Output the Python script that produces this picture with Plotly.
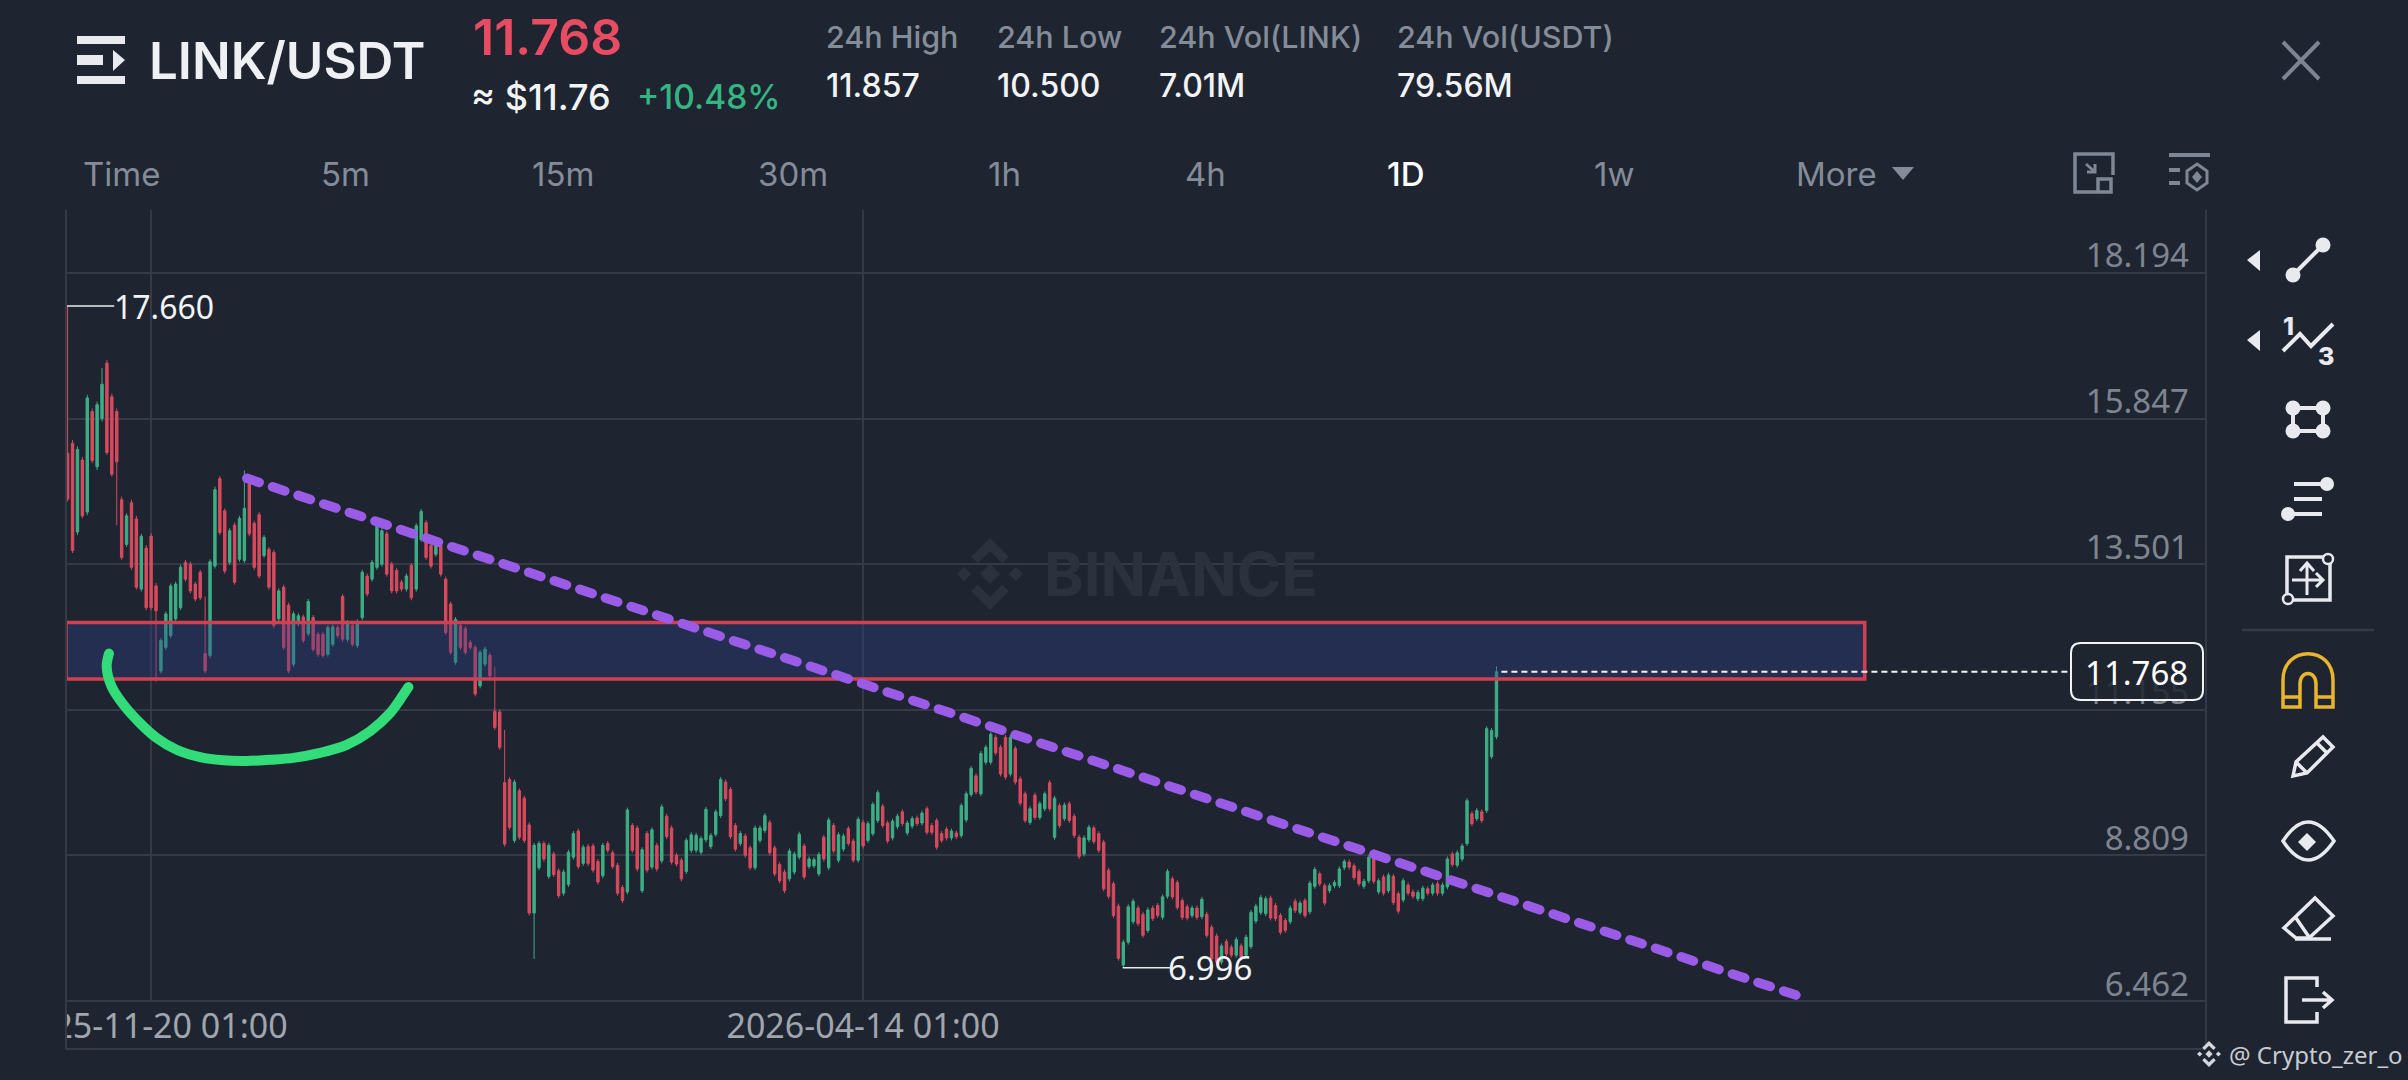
"""LINK/USDT 1D chart screen, dark trading app layout."""

import pandas as pd
import plotly.graph_objects as go

W, H = 2408, 1080
BG = "#1e2530"
GRID = "#343a46"
ICON = "#e8eaef"
MUTED = "#858c99"
GREEN = "#3dae85"
RED = "#d84a5e"
PURPLE = "#9a5ce6"

START_DATE = "2025-11-03 01:00"
VIEW_RANGE = ["2025-11-02 17:00", "2027-01-12 13:00"]

opens = [
    15.29, 15.45, 14.02, 15.18, 14.34, 15.96, 15.07, 15.85, 16.74, 16.20,
    15.96, 14.54, 13.82, 14.49, 14.23, 13.10, 13.76, 13.95, 13.15, 11.78,
    12.16, 12.35, 12.62, 12.80, 13.53, 13.50, 13.18, 13.37, 12.06, 12.03,
    13.47, 14.88, 14.36, 13.53, 14.13, 13.58, 13.56, 14.82, 14.16, 14.30,
    13.64, 13.74, 13.69, 12.62, 13.13, 12.84, 11.89, 12.54, 12.65, 12.38,
    12.64, 12.37, 12.37, 12.05, 12.21, 12.48, 12.98, 12.29, 12.51, 12.19,
    12.64, 13.31, 13.26, 13.45, 13.50, 13.99, 13.50, 13.40, 13.21, 13.10,
    13.48, 13.10, 13.90, 14.17, 13.80, 13.66, 13.80, 13.26, 12.86, 11.92,
    12.51, 12.46, 12.24, 12.16, 11.54, 11.89, 12.03, 11.13, 11.12, 9.98,
    10.03, 9.05, 9.85, 9.73, 9.30, 7.88, 8.61, 9.00, 8.47, 8.83,
    8.56, 8.20, 8.34, 8.78, 9.20, 8.68, 8.95, 8.96, 8.71, 8.48,
    9.00, 8.85, 8.65, 8.29, 8.22, 9.29, 9.25, 8.24, 9.16, 8.62,
    8.97, 8.72, 9.44, 9.25, 8.81, 8.73, 8.55, 8.89, 8.89, 8.86,
    9.06, 8.95, 9.15, 9.45, 9.99, 9.87, 9.29, 9.00, 9.12, 8.93,
    8.61, 9.05, 9.21, 9.34, 8.93, 8.66, 8.54, 8.43, 8.54, 8.78,
    8.96, 8.63, 8.64, 8.51, 9.10, 8.61, 9.29, 8.73, 8.91, 9.24,
    9.04, 8.73, 9.34, 9.05, 9.16, 9.37, 9.60, 9.33, 9.09, 9.27,
    9.51, 9.17, 9.28, 9.41, 9.33, 9.56, 9.29, 9.37, 9.16, 9.23,
    9.09, 9.17, 9.13, 9.38, 9.79, 10.09, 9.80, 10.31, 10.31, 10.71,
    10.55, 10.71, 10.12, 10.53, 10.04, 9.80, 9.34, 9.78, 9.42, 9.56,
    9.98, 9.10, 9.61, 9.40, 9.64, 9.44, 9.10, 8.83, 9.06, 9.25,
    9.16, 9.02, 8.57, 8.35, 7.99, 7.04, 7.41, 7.74, 7.96, 7.86,
    7.60, 7.96, 8.00, 7.81, 8.15, 8.43, 8.37, 8.08, 7.98, 7.84,
    7.96, 7.82, 7.86, 7.65, 7.51, 7.09, 7.42, 7.33, 7.20, 7.35,
    7.20, 7.34, 7.75, 7.89, 7.87, 8.12, 8.00, 7.84, 7.76, 7.74,
    8.07, 7.89, 8.08, 7.90, 8.31, 8.51, 8.32, 8.24, 8.32, 8.32,
    8.61, 8.70, 8.64, 8.55, 8.31, 8.40, 8.87, 8.22, 8.46, 8.24,
    8.47, 8.19, 8.09, 8.33, 8.22, 8.11, 8.11, 8.27, 8.20, 8.35,
    8.20, 8.30, 8.83, 8.65, 8.75, 9.00, 9.48, 9.40, 9.51, 9.53,
    10.40, 10.72,
]
highs = [
    17.66, 15.50, 15.40, 15.23, 16.23, 16.01, 16.12, 16.66, 16.79, 16.25,
    16.01, 14.59, 14.32, 14.54, 14.28, 13.99, 13.81, 14.00, 13.20, 12.31,
    12.74, 13.19, 13.22, 13.49, 13.57, 13.54, 13.22, 13.41, 12.98, 13.58,
    14.75, 14.92, 14.40, 14.08, 14.17, 14.28, 15.01, 14.86, 14.20, 14.34,
    13.97, 13.78, 13.73, 13.11, 13.17, 12.88, 12.74, 12.71, 12.69, 12.94,
    12.68, 12.41, 12.41, 12.52, 12.53, 12.52, 13.02, 12.60, 12.55, 12.61,
    13.41, 13.35, 13.57, 14.19, 14.08, 14.03, 13.54, 13.44, 13.25, 13.35,
    13.52, 14.16, 14.39, 14.21, 13.84, 13.84, 13.84, 13.30, 12.90, 12.65,
    12.55, 12.50, 12.28, 12.20, 12.12, 12.17, 12.07, 11.85, 11.16, 10.83,
    10.07, 10.03, 9.89, 9.77, 9.34, 9.01, 9.04, 9.04, 9.01, 8.87,
    8.60, 8.58, 8.90, 9.20, 9.24, 8.98, 8.99, 9.00, 8.75, 9.01,
    9.04, 8.89, 8.69, 8.33, 9.58, 9.33, 9.29, 8.94, 9.20, 9.26,
    9.01, 9.63, 9.48, 9.29, 8.85, 8.77, 9.09, 9.18, 9.17, 9.12,
    9.59, 9.17, 9.55, 10.07, 10.03, 9.91, 9.33, 9.20, 9.16, 8.97,
    9.29, 9.29, 9.49, 9.38, 8.97, 8.70, 8.58, 8.92, 8.87, 9.19,
    9.00, 8.79, 8.78, 8.86, 9.14, 9.42, 9.33, 9.18, 9.16, 9.28,
    9.08, 9.43, 9.38, 9.36, 9.67, 9.86, 9.64, 9.37, 9.40, 9.48,
    9.55, 9.37, 9.44, 9.45, 9.53, 9.60, 9.33, 9.41, 9.20, 9.27,
    9.24, 9.21, 9.65, 9.84, 10.25, 10.13, 10.49, 10.59, 10.80, 10.75,
    10.59, 10.75, 10.75, 10.57, 10.08, 9.84, 9.60, 9.82, 9.68, 9.84,
    10.02, 9.77, 9.65, 9.66, 9.68, 9.48, 9.14, 9.13, 9.30, 9.29,
    9.20, 9.06, 8.61, 8.39, 8.03, 7.45, 8.02, 8.11, 8.00, 7.90,
    7.97, 8.00, 8.04, 8.18, 8.59, 8.47, 8.41, 8.12, 8.02, 8.00,
    8.00, 8.14, 7.90, 7.69, 7.55, 7.39, 7.46, 7.37, 7.49, 7.39,
    7.53, 7.93, 8.03, 8.17, 8.15, 8.16, 8.04, 7.88, 7.80, 8.00,
    8.11, 8.08, 8.12, 8.40, 8.62, 8.55, 8.36, 8.36, 8.41, 8.63,
    8.75, 8.74, 8.68, 8.59, 8.43, 8.82, 8.91, 8.44, 8.50, 8.53,
    8.51, 8.23, 8.44, 8.37, 8.26, 8.25, 8.32, 8.31, 8.37, 8.39,
    8.37, 8.79, 8.87, 8.89, 9.00, 9.73, 9.52, 9.57, 9.55, 10.89,
    10.86, 11.857,
]
lows = [
    14.51, 13.68, 13.97, 14.24, 14.29, 15.13, 15.02, 15.80, 15.26, 14.91,
    14.13, 13.57, 13.78, 13.41, 13.09, 13.06, 12.76, 12.76, 11.61, 11.74,
    12.12, 12.31, 12.58, 12.76, 13.22, 13.03, 12.90, 12.92, 11.74, 11.99,
    13.43, 13.97, 13.35, 13.49, 13.17, 13.54, 13.52, 13.95, 13.41, 13.27,
    13.60, 13.09, 12.47, 12.58, 12.12, 11.74, 11.85, 12.50, 12.23, 12.34,
    12.09, 12.01, 11.99, 12.01, 12.17, 12.31, 12.25, 12.25, 12.17, 12.15,
    12.60, 12.98, 13.22, 13.41, 13.46, 13.30, 13.03, 13.03, 13.06, 13.06,
    12.92, 13.06, 13.86, 13.57, 13.43, 13.62, 13.30, 12.36, 12.04, 11.88,
    12.12, 12.04, 12.12, 11.37, 11.50, 11.85, 11.66, 10.83, 10.51, 8.95,
    9.22, 9.01, 9.06, 9.01, 7.84, 7.14, 8.57, 8.71, 8.43, 8.46,
    8.12, 8.16, 8.30, 8.74, 8.59, 8.64, 8.64, 8.53, 8.34, 8.44,
    8.85, 8.59, 8.16, 8.04, 8.18, 8.85, 8.55, 8.20, 8.53, 8.58,
    8.55, 8.68, 9.07, 8.66, 8.63, 8.39, 8.51, 8.85, 8.85, 8.82,
    9.02, 8.91, 9.11, 9.41, 9.68, 9.07, 8.87, 8.96, 8.77, 8.57,
    8.57, 9.01, 9.17, 8.81, 8.47, 8.36, 8.20, 8.39, 8.50, 8.74,
    8.42, 8.59, 8.60, 8.47, 8.71, 8.57, 8.84, 8.69, 8.87, 8.96,
    8.69, 8.69, 8.92, 9.01, 9.12, 9.33, 9.25, 9.00, 9.05, 9.23,
    9.28, 9.13, 9.24, 9.28, 9.29, 9.14, 9.14, 8.90, 9.01, 9.05,
    9.05, 9.07, 9.09, 9.34, 9.75, 9.79, 9.76, 10.27, 10.27, 10.42,
    10.08, 10.03, 10.08, 9.95, 9.61, 9.33, 9.30, 9.38, 9.38, 9.52,
    9.52, 9.06, 9.25, 9.36, 9.33, 9.09, 8.75, 8.79, 9.02, 8.99,
    8.85, 8.23, 8.11, 7.80, 7.11, 6.996, 7.37, 7.70, 7.67, 7.48,
    7.56, 7.75, 7.80, 7.77, 8.11, 8.10, 7.93, 7.77, 7.76, 7.80,
    7.77, 7.78, 7.48, 7.10, 7.05, 7.05, 7.18, 7.16, 7.16, 7.13,
    7.16, 7.30, 7.71, 7.85, 7.83, 7.76, 7.75, 7.53, 7.56, 7.70,
    7.88, 7.85, 7.80, 7.86, 8.27, 8.31, 8.00, 8.20, 8.28, 8.28,
    8.57, 8.58, 8.41, 8.31, 8.27, 8.36, 8.35, 8.18, 8.16, 8.20,
    8.01, 7.87, 8.05, 8.16, 8.11, 8.07, 8.07, 8.16, 8.16, 8.16,
    8.16, 8.26, 8.62, 8.61, 8.71, 8.96, 9.28, 9.36, 9.33, 9.49,
    10.36, 10.68,
]
closes = [
    14.55, 13.72, 15.35, 14.28, 16.18, 15.17, 16.07, 16.40, 15.30, 14.95,
    15.15, 13.61, 14.28, 13.45, 13.13, 13.95, 12.80, 12.80, 12.75, 12.27,
    12.70, 13.15, 13.18, 13.45, 13.26, 13.07, 12.94, 12.96, 11.78, 13.54,
    14.70, 14.01, 13.39, 14.04, 13.21, 14.24, 14.40, 13.99, 13.45, 13.31,
    13.93, 13.13, 12.51, 13.07, 12.16, 11.78, 12.70, 12.67, 12.27, 12.90,
    12.13, 12.05, 12.03, 12.48, 12.49, 12.35, 12.29, 12.56, 12.21, 12.57,
    13.37, 13.02, 13.53, 14.15, 14.04, 13.34, 13.07, 13.07, 13.10, 13.31,
    12.96, 14.12, 14.35, 13.61, 13.47, 13.80, 13.34, 12.40, 12.08, 12.61,
    12.16, 12.08, 12.16, 11.41, 12.08, 12.13, 11.70, 10.87, 10.55, 8.99,
    9.26, 9.99, 9.10, 9.05, 7.88, 8.97, 9.00, 8.75, 8.97, 8.50,
    8.16, 8.54, 8.86, 9.16, 8.63, 8.94, 8.68, 8.57, 8.38, 8.97,
    8.89, 8.63, 8.20, 8.08, 9.54, 8.89, 8.59, 8.90, 8.57, 9.22,
    8.59, 9.59, 9.11, 8.70, 8.67, 8.43, 9.05, 9.14, 9.13, 9.08,
    9.55, 9.13, 9.51, 10.03, 9.72, 9.11, 8.91, 9.16, 8.81, 8.61,
    9.25, 9.25, 9.45, 8.85, 8.51, 8.40, 8.24, 8.88, 8.83, 9.15,
    8.46, 8.75, 8.74, 8.82, 8.75, 9.38, 8.88, 9.14, 9.12, 9.00,
    8.73, 9.39, 8.96, 9.32, 9.63, 9.82, 9.29, 9.04, 9.36, 9.44,
    9.32, 9.33, 9.40, 9.32, 9.49, 9.18, 9.18, 8.94, 9.05, 9.09,
    9.20, 9.11, 9.61, 9.80, 10.21, 9.83, 10.45, 10.55, 10.76, 10.46,
    10.12, 10.07, 10.71, 9.99, 9.65, 9.37, 9.56, 9.42, 9.64, 9.80,
    9.56, 9.73, 9.29, 9.62, 9.37, 9.13, 8.79, 9.09, 9.26, 9.03,
    8.89, 8.27, 8.15, 7.84, 7.15, 7.41, 7.98, 8.07, 7.71, 7.52,
    7.93, 7.79, 7.84, 8.14, 8.55, 8.14, 7.97, 7.81, 7.80, 7.96,
    7.81, 8.10, 7.52, 7.14, 7.09, 7.35, 7.22, 7.20, 7.45, 7.17,
    7.49, 7.89, 7.99, 8.13, 8.11, 7.80, 7.79, 7.57, 7.60, 7.96,
    7.92, 8.04, 7.84, 8.36, 8.58, 8.35, 8.04, 8.32, 8.37, 8.59,
    8.71, 8.62, 8.45, 8.35, 8.39, 8.78, 8.39, 8.40, 8.20, 8.49,
    8.05, 7.91, 8.40, 8.20, 8.15, 8.21, 8.28, 8.20, 8.33, 8.20,
    8.33, 8.75, 8.66, 8.85, 8.96, 9.69, 9.32, 9.53, 9.37, 10.85,
    10.82, 11.768,
]

y_ticks = [18.194, 15.847, 13.501, 11.155, 8.809, 6.462]
y_range = [6.462, 19.208]
x_ticks = ["2025-11-20 01:00", "2026-04-14 01:00"]

# zone, trend line and hand drawn curve
zone_x = ["2025-11-02 17:00", "2026-11-04 01:00", "2026-11-04 01:00", "2025-11-02 17:00", "2025-11-02 17:00"]
zone_y = [12.563, 12.563, 11.65, 11.65, 12.563]
trend_x = ["2025-12-09 13:00", "2026-10-22 10:00"]
trend_y = [14.885, 6.52]
curve_days = [8.42, 7.95, 8.96, 11.34, 14.74, 18.13, 22.2, 26.96, 31.71, 36.46,
              41.2, 45.97, 51.4, 56.83, 61.6, 65.66, 67.7, 69.4]
curve_y = [12.06, 11.85, 11.53, 11.24, 10.94, 10.70, 10.51, 10.39, 10.34, 10.33,
           10.35, 10.38, 10.46, 10.59, 10.81, 11.10, 11.32, 11.52]

high_label_x = ["2025-11-03 01:00", "2025-11-12 10:00"]
low_label_x = ["2026-06-06 01:00", "2026-06-15 10:00"]
last_price = 11.768
last_line_x = ["2026-08-22 01:00", "2026-12-16 01:00"]

stat_names = ["24h High", "24h Low", "24h Vol(LINK)", "24h Vol(USDT)"]
stat_values = ["11.857", "10.500", "7.01M", "79.56M"]
stat_lefts = [824, 995, 1157, 1395]
tabs = ["Time", "5m", "15m", "30m", "1h", "4h", "1D", "1w", "More"]
tab_lefts = [81, 319, 530, 756, 986, 1183, 1385, 1592, 1794]

dates = pd.date_range(START_DATE, periods=len(highs), freq="D")
curve_x = [dates[0] + pd.Timedelta(days=d) for d in curve_days]


def px_x(v):
    return v / W


def px_y(v):
    return 1 - v / H


def px_path(d):
    out, is_x = [], True
    for tok in d.split():
        if tok.isalpha():
            out.append(tok)
        else:
            out.append(f"{px_x(float(tok)) if is_x else px_y(float(tok)):.5f}")
            is_x = not is_x
    return " ".join(out)


shapes = []
notes = []


def stroke(d, color=ICON, width=3.5, fill=None):
    shapes.append(dict(type="path", path=px_path(d), xref="paper", yref="paper", layer="above",
                       line=dict(color=color, width=width), fillcolor=fill or "rgba(0,0,0,0)"))


def solid(d, color=ICON):
    shapes.append(dict(type="path", path=px_path(d), xref="paper", yref="paper", layer="above",
                       line=dict(width=0), fillcolor=color))


def dot(cx, cy, r, color=ICON, fill=None, width=0):
    shapes.append(dict(type="circle", xref="paper", yref="paper", layer="above",
                       x0=px_x(cx - r), x1=px_x(cx + r), y0=px_y(cy + r), y1=px_y(cy - r),
                       line=dict(color=color, width=width), fillcolor=fill or color))


def label(text, x, y, size, color="#ffffff", family="Inter", weight=400, anchor="left"):
    notes.append(dict(text=text, x=px_x(x), y=px_y(y), xref="paper", yref="paper", showarrow=False,
                      xanchor=anchor, yanchor="middle",
                      font=dict(family=family, size=size, color=color, weight=weight)))


def binance_mark(cx, cy, r, color):
    def diamond(x, y, s):
        solid(f"M {x} {y - s} L {x + s} {y} L {x} {y + s} L {x - s} {y} Z", color)
    diamond(cx, cy, r * 0.28)
    diamond(cx - r * 0.72, cy, r * 0.2)
    diamond(cx + r * 0.72, cy, r * 0.2)
    for sign in (-1, 1):
        solid(f"M {cx} {cy + sign * r} L {cx + r * 0.52} {cy + sign * r * 0.48} "
              f"L {cx + r * 0.34} {cy + sign * r * 0.3} L {cx} {cy + sign * r * 0.64} "
              f"L {cx - r * 0.34} {cy + sign * r * 0.3} L {cx - r * 0.52} {cy + sign * r * 0.48} Z", color)


# ---------------------------------------------------------------------------
# Frame
# ---------------------------------------------------------------------------
solid("M 0 1003 L 66 1003 L 66 1075 L 0 1075 Z", BG)
stroke("M 66 210 L 66 1049", GRID, 2)
stroke("M 2206 210 L 2206 1049", GRID, 2)
stroke("M 66 1001 L 2206 1001", GRID, 2)
stroke("M 66 1049 L 2206 1049", GRID, 2)

# ---------------------------------------------------------------------------
# Header
# ---------------------------------------------------------------------------
solid("M 77 36 L 125 36 L 125 44 L 77 44 Z")
solid("M 77 76 L 125 76 L 125 84 L 77 84 Z")
solid("M 77 55 L 103 55 L 103 65 L 77 65 Z")
solid("M 113 50 L 125 60 L 113 71 Z")
label("LINK/USDT", 147, 61, 51, "#eef0f4", weight=600)
label("11.768", 471, 37, 50, "#e84c63", weight=600)
label("≈ $11.76", 469, 97, 36, "#f2f3f5", weight=500)
label("+10.48%", 635, 97, 33.5, "#35b582", weight=500)
for name, value, left in zip(stat_names, stat_values, stat_lefts):
    label(name, left, 37, 30.5, "#858c99", weight=500)
    label(value, left, 85, 32, "#f2f3f5", weight=500)
for tab, left in zip(tabs, tab_lefts):
    label(tab, left, 174, 33, "#ffffff" if tab == "1D" else MUTED, weight=500 if tab == "1D" else 400)
solid("M 1892 167 L 1914 167 L 1903 180 Z", MUTED)
stroke("M 2283 42 L 2319 79", "#7d8593", 4)
stroke("M 2319 42 L 2283 79", "#7d8593", 4)

# expand and settings icons
stroke("M 2113 175 L 2113 154 L 2075 154 L 2075 192 L 2097 192", "#7f8694", 3.5)
stroke("M 2098 179 L 2111 179 L 2111 192 L 2098 192 Z", "#7f8694", 3.5)
stroke("M 2086 164 L 2095 172 M 2095 164 L 2095 172 L 2087 172", "#7f8694", 3)
stroke("M 2169 155 L 2210 155", "#7f8694", 4)
stroke("M 2169 170 L 2180 170 M 2169 183 L 2180 183", "#7f8694", 4)
stroke("M 2197 164 L 2207 171 L 2207 183 L 2197 190 L 2187 183 L 2187 171 Z", "#7f8694", 3)
solid("M 2197 171 L 2202 177 L 2197 183 L 2192 177 Z", "#7f8694")

# ---------------------------------------------------------------------------
# Right toolbar
# ---------------------------------------------------------------------------
solid("M 2260 250 L 2247 260 L 2260 271 Z")
stroke("M 2293 275 L 2323 245", width=4)
dot(2293, 275, 7.5)
dot(2323, 245, 7.5)

solid("M 2260 330 L 2247 340 L 2260 351 Z")
stroke("M 2283 351 L 2300 334 L 2311 346 L 2333 324", width=4)
label("1", 2288, 326, 25, ICON, weight=800, anchor="center")
label("3", 2326, 356, 25, ICON, weight=800, anchor="center")

stroke("M 2293 408 L 2323 408 L 2323 431 L 2293 431 Z", width=4)
for cx, cy in [(2293, 408), (2323, 408), (2293, 431), (2323, 431)]:
    dot(cx, cy, 7.5)

stroke("M 2294 484 L 2327 484 M 2294 499 L 2322 499 M 2288 514 L 2322 514", width=4)
dot(2327, 484, 7)
dot(2288, 514, 7)

stroke("M 2287 557 L 2330 557 L 2330 600 L 2287 600 Z", width=3.5)
dot(2328, 559, 5, ICON, BG, 2.5)
dot(2288, 599, 5, ICON, BG, 2.5)
stroke("M 2307 595 L 2307 563 M 2300 571 L 2307 563 L 2314 571", width=3)
stroke("M 2292 580 L 2323 580 M 2316 573 L 2323 580 L 2316 587", width=3)

stroke("M 2242 630 L 2374 630", GRID, 2.5)

GOLD = "#e9b52e"
stroke("M 2283 707 L 2283 680 C 2283 645 2333 645 2333 680 L 2333 707 L 2316 707 L 2316 684 "
       "C 2316 670 2300 670 2300 684 L 2300 707 Z", GOLD, 3.5)
stroke("M 2283 697 L 2300 697 M 2316 697 L 2333 697", GOLD, 3.5)

stroke("M 2293 776 L 2296 762 L 2323 737 L 2333 747 L 2307 773 Z")
stroke("M 2297 763 L 2306 772 M 2316 742 L 2327 753")

stroke("M 2283 841 Q 2308 803 2334 841 Q 2308 879 2283 841 Z")
solid("M 2307 833 L 2316 842 L 2307 851 L 2298 842 Z")

stroke("M 2315 898 L 2333 916 L 2309 938 L 2296 938 L 2284 928 Z")
stroke("M 2296 918 L 2309 937 M 2295 939 L 2331 939")

stroke("M 2317 987 L 2317 978 L 2286 978 L 2286 1022 L 2317 1022 L 2317 1012")
stroke("M 2302 1000 L 2332 1000 M 2323 992 L 2332 1000 L 2323 1008")

# ---------------------------------------------------------------------------
# Watermarks, price tags
# ---------------------------------------------------------------------------
binance_mark(990, 574, 36, "#2b323e")
label("BINANCE", 1042, 574, 60, "#2b323e", weight=700)
binance_mark(2209, 1054, 13, "#d4d7dd")
label("@ Crypto_zer_o", 2227, 1054, 24, "#c8ccd3", "Noto Sans")

shapes.append(dict(type="line", xref="x", yref="y", layer="above", x0=last_line_x[0], x1=last_line_x[1],
                   y0=last_price, y1=last_price, line=dict(color="#f2f3f5", width=2, dash="6px,4px")))
stroke("M 2081 643 L 2193 643 Q 2203 643 2203 653 L 2203 690 Q 2203 700 2193 700 L 2081 700 "
       "Q 2071 700 2071 690 L 2071 653 Q 2071 643 2081 643 Z", "#f2f3f5", 2, "rgba(30,37,48,0.86)")
label("11.768", 2190, 672, 33, "#ffffff", "Noto Sans", anchor="right")

# ---------------------------------------------------------------------------
# Chart
# ---------------------------------------------------------------------------
fig = go.Figure()

fig.add_trace(go.Candlestick(
    x=dates, open=opens, high=highs, low=lows, close=closes,
    increasing=dict(line=dict(color=GREEN, width=1), fillcolor=GREEN),
    decreasing=dict(line=dict(color=RED, width=1), fillcolor=RED),
    whiskerwidth=0,
))
fig.add_trace(go.Scatter(
    x=zone_x, y=zone_y, mode="lines", fill="toself",
    fillcolor="rgba(45,62,140,0.35)", line=dict(color="#cf4052", width=3.5),
))
fig.add_trace(go.Scatter(x=high_label_x, y=[highs[0], highs[0]], mode="lines", line=dict(color="#e8eaef", width=1.5)))
fig.add_trace(go.Scatter(x=low_label_x, y=[lows[215], lows[215]], mode="lines", line=dict(color="#e8eaef", width=1.5)))
fig.add_trace(go.Scatter(x=trend_x, y=trend_y, mode="lines", line=dict(color=PURPLE, width=9.5, dash="13px,14px")))
fig.add_trace(go.Scatter(x=curve_x, y=curve_y, mode="lines", line=dict(color="#32dc78", width=10, shape="spline")))

notes.append(dict(text="17.660", x=high_label_x[1], y=highs[0], xref="x", yref="y", showarrow=False,
                  xanchor="left", yanchor="middle", xshift=-2,
                  font=dict(family="Noto Sans", size=32, color="#f2f3f5")))
notes.append(dict(text="6.996", x=low_label_x[1], y=lows[215], xref="x", yref="y", showarrow=False,
                  xanchor="left", yanchor="middle", xshift=-3,
                  font=dict(family="Noto Sans", size=33, color="#f2f3f5")))

fig.update_layout(
    width=W, height=H,
    margin=dict(l=0, r=0, t=0, b=0, pad=0),
    paper_bgcolor=BG, plot_bgcolor=BG,
    showlegend=False,
    shapes=shapes, annotations=notes,
    xaxis=dict(
        automargin=False,
        domain=[66 / W, 2206 / W],
        type="date",
        range=VIEW_RANGE,
        rangeslider=dict(visible=False),
        tickmode="array", tickvals=x_ticks, ticktext=x_ticks,
        tickangle=0, ticks="", ticklabelstandoff=2,
        tickfont=dict(family="Noto Sans", size=34, color="#a0a5ae"),
        showgrid=True, gridcolor=GRID, gridwidth=2, zeroline=False, showline=False,
    ),
    yaxis=dict(
        automargin=False,
        domain=[1 - 1001 / H, 1 - 210 / H],
        side="right",
        range=y_range,
        tickmode="array", tickvals=y_ticks, ticktext=[f"{v:.3f}" for v in y_ticks],
        ticks="", ticklabelposition="inside", ticklabeloverflow="allow",
        ticklabelstandoff=14, ticklabelshift=-17,
        tickfont=dict(family="Noto Sans", size=33, color="#7f8590"),
        showgrid=True, gridcolor=GRID, gridwidth=2, zeroline=False, showline=False,
    ),
)

POST_SCRIPT = (
    "document.body.style.margin='0';"
    "document.querySelectorAll('.scatterlayer .js-line').forEach(p=>{p.style.strokeLinecap='round';});"
)

fig.write_html("out.html", config={"displayModeBar": False}, post_script=POST_SCRIPT)
